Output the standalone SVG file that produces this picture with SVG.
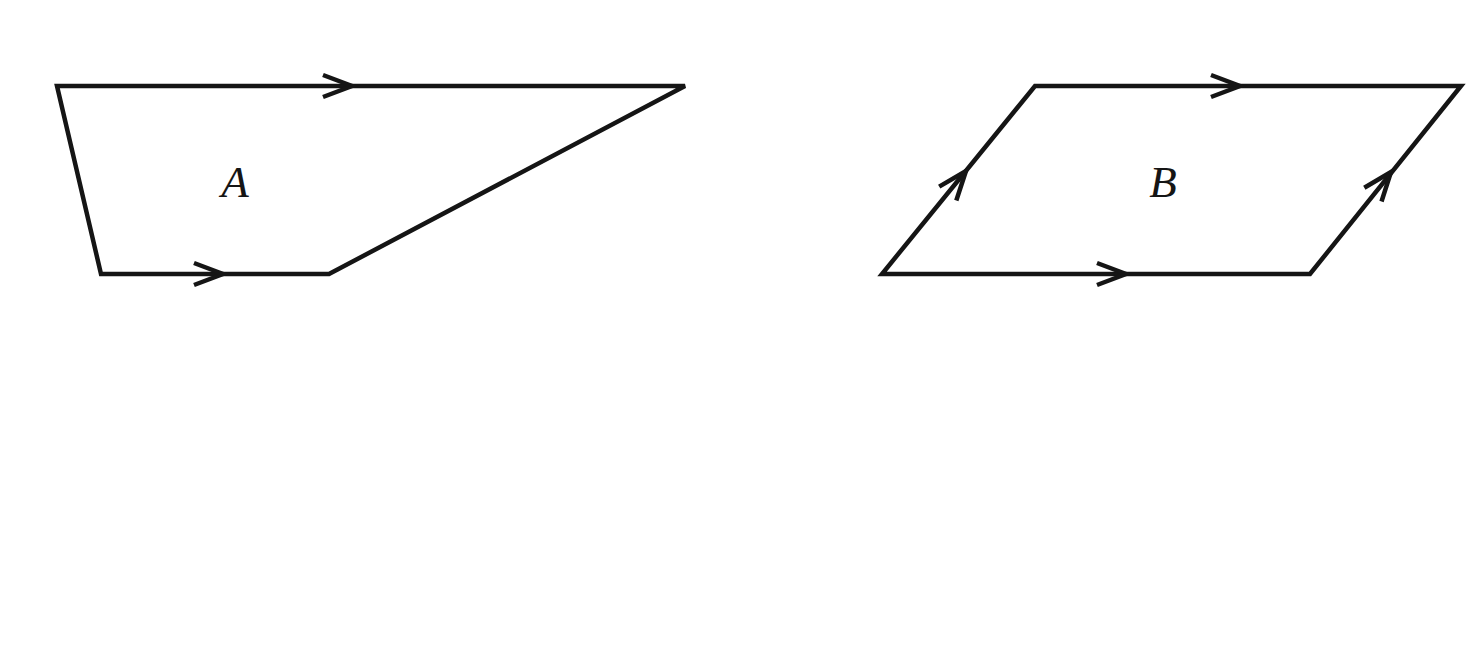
<svg xmlns="http://www.w3.org/2000/svg" xmlns:xlink="http://www.w3.org/1999/xlink" width="1483" height="648" viewBox="0 0 1483 648">
<style>
.edge{fill:none;stroke:#151515;stroke-width:4.5;stroke-linejoin:miter;stroke-linecap:butt}
.lbl{font-family:"Liberation Serif","Times New Roman",serif;font-style:italic;font-size:45px;fill:#151515}
</style>
<defs>
<path id="chev" d="M-29,-11 L0,0 L-29,11" fill="none" stroke="#151515" stroke-width="4.5" stroke-linejoin="miter"/>
</defs>
<rect width="1483" height="648" fill="#fff"/>
<g id="shapeA">
<polygon class="edge" points="57,86 685,86 329,274 101,274"/>
<text class="lbl" x="235" y="197" text-anchor="middle">A</text>
</g>
<g id="shapeB">
<polygon class="edge" points="1035,86 1461,86 1310,274 882,274"/>
<text class="lbl" x="1163" y="197" text-anchor="middle">B</text>
</g>
<g id="connectors">
<use xlink:href="#chev" transform="translate(352,86)"/>
<use xlink:href="#chev" transform="translate(223,274)"/>
<use xlink:href="#chev" transform="translate(1240,86)"/>
<use xlink:href="#chev" transform="translate(1126,274)"/>
<use xlink:href="#chev" transform="translate(966,171) rotate(-51)"/>
<use xlink:href="#chev" transform="translate(1391,172) rotate(-51.4)"/>
</g>
</svg>
